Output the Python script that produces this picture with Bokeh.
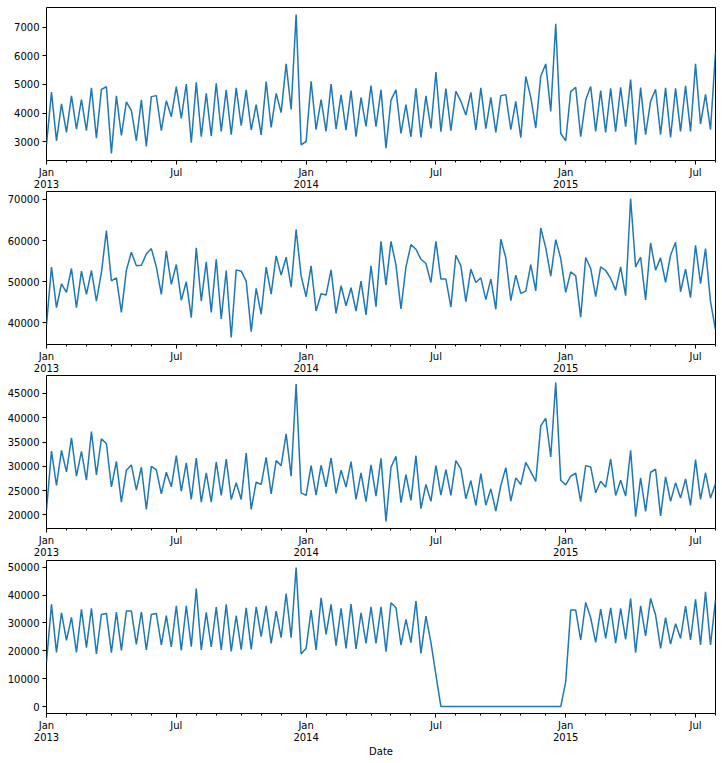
import pandas as pd
from bokeh.plotting import figure
from bokeh.layouts import column
from bokeh.models import Range1d, FixedTicker, LinearAxis
from bokeh.embed import file_html
from bokeh.resources import INLINE

# weekly periods (W-SUN), Jan 2013 .. Aug 2015
dates = pd.date_range("2013-01-06", periods=135, freq="W-SUN")

series_1 = [
    2900, 4730, 3035, 4320, 3330, 4600, 3440, 4470, 3385, 4880,
    3130, 4830, 4920, 2590, 4600, 3220, 4390, 4085, 3035, 4460,
    2840, 4575, 4610, 3385, 4435, 3875, 4920, 3815, 5015, 2965,
    5075, 3175, 4690, 3200, 5040, 3360, 4810, 3245, 4880, 3560,
    4810, 3410, 4295, 3240, 5100, 3500, 4690, 4015, 5715, 4130,
    7440, 2895, 3010, 5110, 3420, 4470, 3360, 5015, 3445, 4635,
    3410, 4785, 3175, 4540, 3535, 4960, 3525, 4810, 2780, 4455,
    4810, 3290, 4295, 3175, 4865, 3150, 4600, 3465, 5435, 3350,
    4855, 3385, 4760, 4410, 3935, 4725, 3410, 4880, 3455, 4550,
    3325, 4610, 4645, 3420, 4410, 3140, 5275, 4550, 3480, 5285,
    5715, 4060, 7115, 3290, 3035, 4750, 4900, 3175, 4455, 4925,
    3360, 4785, 3325, 4865, 3350, 4900, 3525, 5170, 2895, 4890,
    3245, 4410, 4830, 3245, 4880, 3150, 4865, 3360, 4950, 3360,
    5715, 3620, 4655, 3420, 6125,
]

series_2 = [
    39500, 53550, 43710, 49520, 47420, 53230, 43710, 52580, 46940, 52740,
    45320, 52260, 62420, 50240, 50970, 42580, 52820, 57180, 53870, 54030,
    56770, 58070, 53630, 46940, 57500, 49360, 54190, 45480, 50000, 41290,
    58230, 45320, 54840, 42580, 55480, 40970, 52740, 36450, 52900, 52580,
    50160, 37900, 48390, 42100, 53550, 47020, 56290, 51610, 55970, 48710,
    62660, 51450, 46370, 53870, 42900, 47100, 46770, 52900, 42340, 49030,
    44190, 48550, 42900, 50160, 41940, 53870, 43950, 59840, 49190, 59840,
    54030, 43390, 53630, 59030, 57900, 55480, 54440, 49840, 59840, 50650,
    50650, 43870, 56450, 53870, 45160, 53070, 49840, 50970, 45650, 50650,
    43310, 60320, 55810, 45400, 51610, 47180, 47740, 54190, 47820, 63070,
    58230, 51370, 60240, 55650, 47420, 52420, 51450, 41370, 55890, 53230,
    46370, 53630, 52740, 50810, 47980, 53630, 46610, 70250, 53630, 55970,
    45570, 59440, 52820, 55810, 49840, 56450, 59600, 47580, 53070, 46130,
    58870, 49520, 58070, 45160, 38310,
]

series_3 = [
    21000, 33150, 26060, 33280, 28860, 35870, 27970, 33080, 27150, 37170,
    28240, 35670, 34650, 25790, 31040, 22660, 29200, 30290, 25110, 29810,
    21160, 30010, 29260, 24360, 28790, 25790, 32190, 24840, 30700, 23200,
    31720, 22660, 28650, 22660, 30900, 24020, 31510, 23200, 26610, 23200,
    32740, 21160, 26740, 26300, 31850, 24360, 31170, 30150, 36690, 27970,
    46900, 24560, 24020, 30150, 24090, 30220, 25790, 31720, 24430, 29200,
    25720, 30970, 23200, 28650, 22730, 30290, 23880, 31650, 18650, 29810,
    32060, 22520, 28310, 23000, 32190, 21290, 26270, 22790, 30150, 24090,
    29330, 24020, 31170, 29470, 23340, 27080, 21980, 28520, 22010, 25380,
    20820, 26060, 29740, 22860, 27630, 26270, 30830, 28920, 26880, 38320,
    39890, 31920, 47250, 27150, 26200, 27970, 28580, 22730, 30150, 29880,
    24560, 26950, 25720, 31510, 24020, 27150, 23880, 33280, 19660, 27630,
    20750, 28790, 29400, 19800, 27830, 22790, 26610, 23470, 27430, 21980,
    31380, 23200, 28650, 23470, 26400,
]

series_4 = [
    16000, 36640, 19450, 33650, 23750, 31980, 19450, 34850, 21120, 35200,
    18850, 33060, 33410, 19330, 33890, 20170, 34250, 34250, 22320, 34010,
    20290, 33060, 33410, 22080, 32580, 21360, 36160, 20170, 36160, 21480,
    42360, 20290, 33770, 21360, 35680, 20290, 36640, 19810, 32580, 20410,
    35440, 20530, 35800, 25060, 36160, 22670, 34250, 24700, 40570, 24700,
    49900, 18850, 20880, 34610, 20290, 39020, 25900, 36640, 21840, 35200,
    20880, 36750, 20640, 33650, 22670, 35800, 22670, 35800, 19690, 37230,
    35440, 22080, 31270, 22910, 37830, 19090, 32460, 23030, 11340, 0,
    0, 0, 0, 0, 0, 0, 0, 0, 0, 0,
    0, 0, 0, 0, 0, 0, 0, 0, 0, 0,
    0, 0, 0, 0, 8950, 34610, 34610, 23870, 37350, 31860,
    23030, 34960, 24460, 35440, 22790, 35200, 24110, 38780, 19330, 36160,
    25300, 38780, 32820, 20880, 31860, 22430, 29710, 24460, 36040, 23870,
    38430, 22080, 41170, 22080, 38190,
]

yticks_1 = [3000, 4000, 5000, 6000, 7000]
yticks_2 = [40000, 50000, 60000, 70000]
yticks_3 = [20000, 25000, 30000, 35000, 40000, 45000]
yticks_4 = [0, 10000, 20000, 30000, 40000, 50000]

x = list(range(len(dates)))
month_idx = [i for i in x if i == 0 or dates[i].month != dates[i - 1].month]
major_idx = [i for i in month_idx if dates[i].month in (1, 7)]
jan_idx = [i for i in major_idx if dates[i].month == 1]
month_labels = {i: dates[i].strftime("%b") for i in major_idx}
year_labels = {i: str(dates[i].year) for i in jan_idx}

FONT = "DejaVu Sans"
BLUE = "#1f77b4"


def style_text(ax):
    ax.major_label_text_font = FONT
    ax.major_label_text_font_size = "10px"
    ax.major_label_text_color = "black"


def make_panel(values, yticks, border_top, border_bottom, xlabel=None):
    lo, hi = min(values), max(values)
    pad = 0.05 * (hi - lo)
    p = figure(
        frame_width=669, frame_height=153,
        x_range=Range1d(0, len(values) - 1),
        y_range=Range1d(lo - pad, hi + pad),
        output_backend="svg", toolbar_location=None,
        min_border_left=46, min_border_right=7,
        min_border_top=border_top, min_border_bottom=border_bottom,
    )
    p.line(x, values, line_color=BLUE, line_width=1.5)
    p.grid.visible = False
    p.outline_line_color = "black"
    p.outline_line_width = 1
    p.background_fill_color = "white"
    p.border_fill_color = "white"

    xa = p.xaxis[0]
    xa.ticker = FixedTicker(ticks=major_idx, minor_ticks=month_idx)
    xa.major_label_overrides = month_labels
    xa.axis_line_color = None
    xa.major_tick_line_color = "black"
    xa.minor_tick_line_color = "black"
    xa.major_tick_out = 4
    xa.major_tick_in = 0
    xa.minor_tick_out = 2
    xa.minor_tick_in = 0
    xa.major_label_standoff = 2
    style_text(xa)

    years_axis = LinearAxis(
        ticker=FixedTicker(ticks=jan_idx, minor_ticks=[]),
        major_label_overrides=year_labels,
        axis_line_color=None,
        major_tick_line_color=None,
        minor_tick_line_color=None,
        major_tick_out=0, major_tick_in=0,
        minor_tick_out=0, minor_tick_in=0,
        major_label_standoff=-1,
    )
    style_text(years_axis)
    p.add_layout(years_axis, "below")

    ya = p.yaxis[0]
    ya.ticker = FixedTicker(ticks=yticks)
    ya.axis_line_color = None
    ya.major_tick_line_color = "black"
    ya.minor_tick_line_color = None
    ya.major_tick_out = 4
    ya.major_tick_in = 0
    ya.major_label_standoff = 3
    style_text(ya)

    if xlabel:
        years_axis.axis_label = xlabel
        years_axis.axis_label_text_font = FONT
        years_axis.axis_label_text_font_size = "10px"
        years_axis.axis_label_text_font_style = "normal"
        years_axis.axis_label_text_color = "black"
        years_axis.axis_label_standoff = 2
    return p


p1 = make_panel(series_1, yticks_1, 7, 31)
p2 = make_panel(series_2, yticks_2, 0, 31)
p3 = make_panel(series_3, yticks_3, 0, 32)
p4 = make_panel(series_4, yticks_4, 0, 40, xlabel="Date")

layout = column(p1, p2, p3, p4)
open("out.html", "w").write(file_html(layout, INLINE))
